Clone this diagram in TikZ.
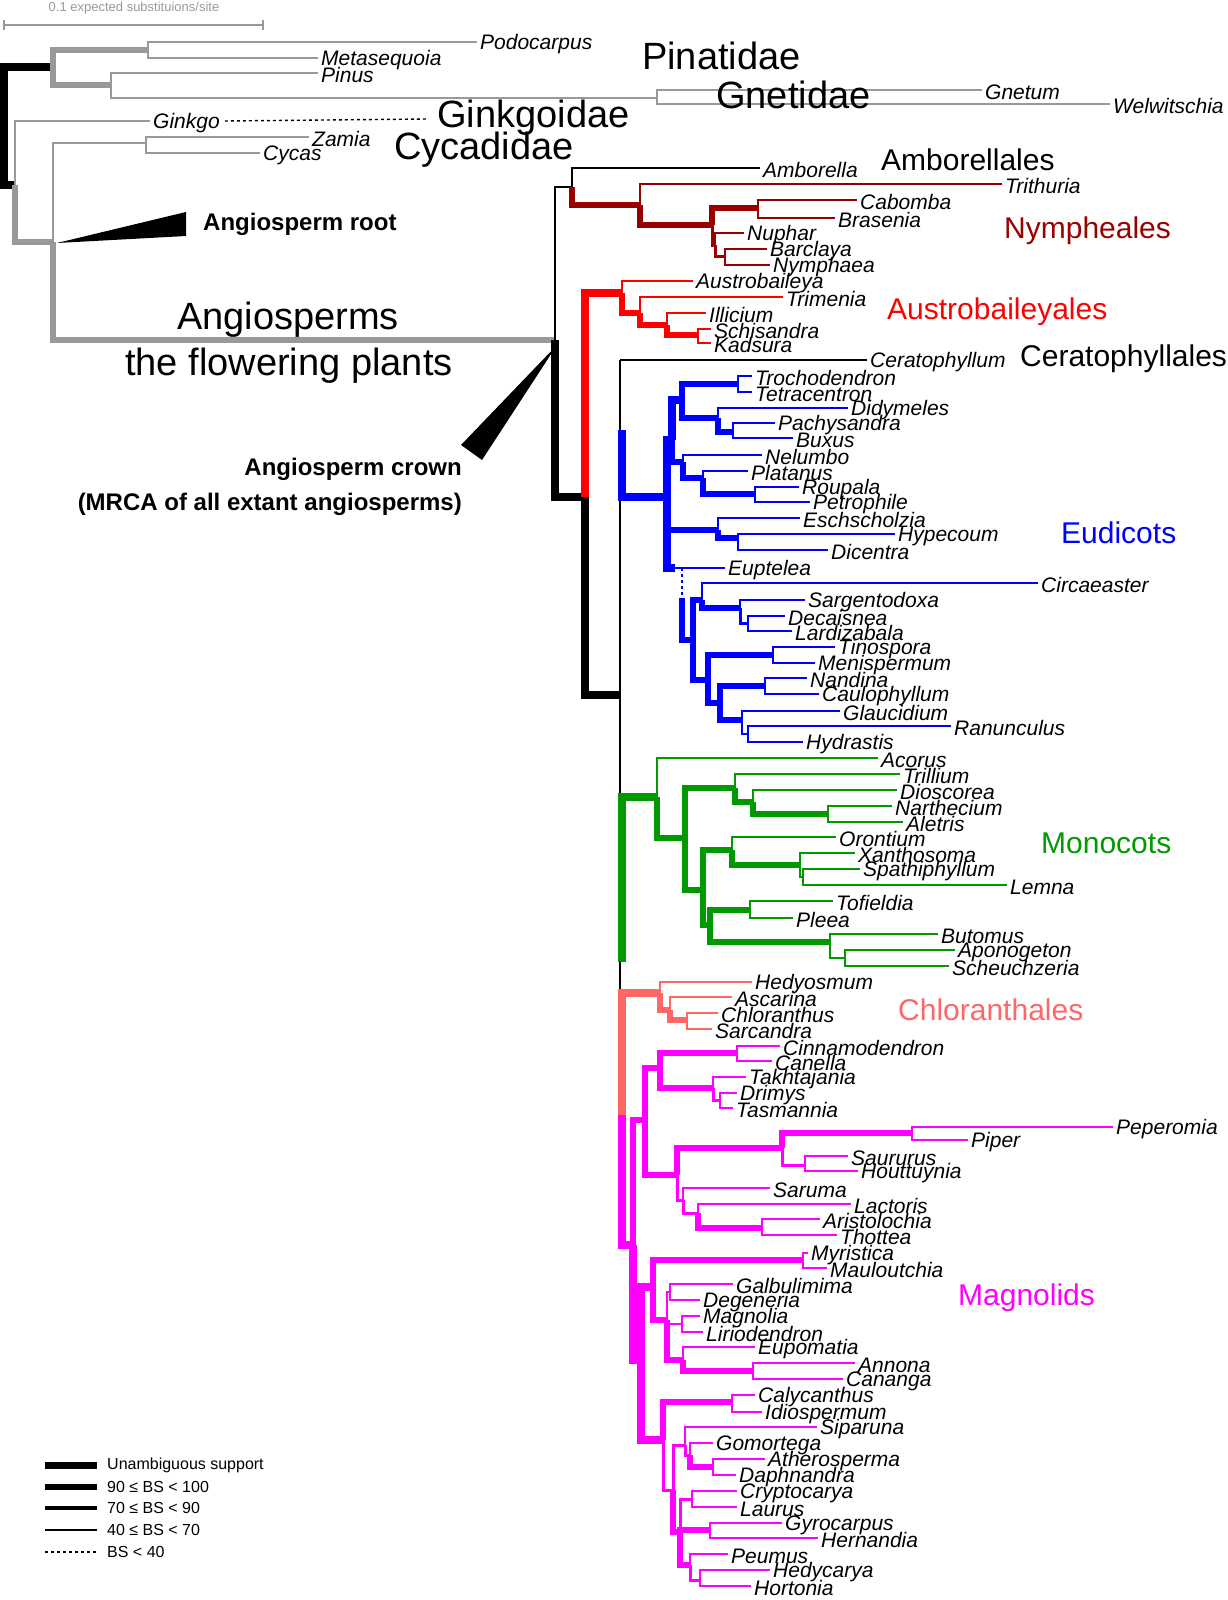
\documentclass[tikz,border=0pt]{standalone}
\usepackage{fontspec}
\setmainfont{Liberation Sans}
\usetikzlibrary{positioning}
\definecolor{gym}{HTML}{999999}
\definecolor{nym}{HTML}{990000}
\definecolor{aus}{HTML}{FF0000}
\definecolor{eud}{HTML}{0000FF}
\definecolor{mon}{HTML}{009900}
\definecolor{chl}{HTML}{FF6666}
\definecolor{mag}{HTML}{FF00FF}
\tikzset{
  t/.style={line width=1.4pt},
  m/.style={line width=3pt},
  k/.style={line width=5.5pt},
  kk/.style={line width=8pt},
  leaf/.style={anchor=west,inner sep=3pt,yshift=-2pt,text=black,font=\fontsize{21}{21}\selectfont\itshape},
  group/.style={anchor=west,inner sep=0pt,font=\fontsize{30}{30}\selectfont},
  big/.style={anchor=west,inner sep=0pt,font=\fontsize{38}{38}\selectfont},
  note/.style={inner sep=0pt,font=\fontsize{24}{24}\selectfont\bfseries},
  key/.style={anchor=west,inner sep=0pt,font=\fontsize{16}{16}\selectfont}
}
% tip of a taxon and its label
\newcommand\tx[3]{\coordinate (#3) at (#1,#2); \node[leaf] (n-#3) at (#3) {#3};}
% branch: vertical then horizontal
\newcommand\brn[3]{\draw[#1] (#2) |- (#3);}
\begin{document}
\begin{tikzpicture}[x=1pt,y=-1pt]
  \useasboundingbox (0,0) rectangle (1227,1600);

  % scale bar
  \draw[gym,t] (4,20) -- (4,30) (4,25) -- (263,25) (263,20) -- (263,30);
  \node[gym,inner sep=0pt,font=\fontsize{13}{13}\selectfont] (scale) at (134,8) {0.1 expected substituions/site};

  % gymnosperms
  \draw[kk] (4,130) |- (53,67);
  \draw[kk] (4,130) -- (4,185) -- (15,185);
  \begin{scope}[gym]
    \tx{477}{42}{Podocarpus} \tx{318}{58}{Metasequoia} \tx{318}{73}{Pinus}
    \tx{982}{90}{Gnetum} \tx{1110}{104}{Welwitschia}
    \tx{150}{121}{Ginkgo} \tx{309}{137}{Zamia} \tx{260}{153}{Cycas}
    \brn{k}{53,67}{148,50} \brn{k}{53,67}{111,85}
    \brn{t}{148,50}{Podocarpus} \brn{t}{148,50}{Metasequoia}
    \brn{t}{111,85}{Pinus} \brn{t}{111,85}{657,98}
    \brn{t}{657,98}{Gnetum} \brn{t}{657,98}{Welwitschia}
    \brn{t}{15,185}{Ginkgo} \brn{k}{15,185}{53,242}
    \brn{t}{53,242}{146,143} \brn{k}{53,242}{555,340}
    \brn{t}{146,143}{Zamia} \brn{t}{146,143}{Cycas}
  \end{scope}
  \draw[t,dashed] (n-Ginkgo.east) ++(2,-2) -- (427,119);
  \node[big] (pinat) at (642,56) {Pinatidae};
  \node[big] (gnet) at (716,95) {Gnetidae};
  \node[big] (gink) at (437,118) {Ginkgoidae};
  \node[big] (cycad) at (394,150) {Cycadidae};

  % angiosperm stem and labels
  \fill (57,243) -- (186,212) -- (186,236) -- cycle;
  \node[note,anchor=west] (root) at (203,224) {Angiosperm root};
  \node[big,anchor=center] (angio) at (288,320) {Angiosperms};
  \node[big,anchor=center] (flower) at (289,366) {the flowering plants};
  \fill (557,345) -- (461,445) -- (482,460) -- cycle;
  \node[note,anchor=east] (crown) at (462,469) {Angiosperm crown};
  \node[note,anchor=east] (mrca) at (462,504) {(MRCA of all extant angiosperms)};

  % angiosperm backbone
  \brn{t}{555,340}{572,187} \brn{kk}{555,340}{585,497}
  \tx{760}{168}{Amborella}
  \brn{t}{572,187}{Amborella}
  \brn{kk}{585,497}{620,695}
  \draw[t] (620,360) -- (620,990);
  \tx{867}{360}{Ceratophyllum}
  \draw[t] (620,360) -- (Ceratophyllum);
  \node[group] (amb) at (881,160) {Amborellales};
  \node[group] (cer) at (1020,359) {Ceratophyllales};

  % Nymphaeales
  \begin{scope}[nym]
    \tx{1002}{184}{Trithuria} \tx{857}{200}{Cabomba} \tx{835}{218}{Brasenia}
    \tx{744}{233}{Nuphar} \tx{767}{249}{Barclaya} \tx{770}{265}{Nymphaea}
    \brn{k}{572,187}{640,205}
    \brn{t}{640,205}{Trithuria} \brn{k}{640,205}{712,225}
    \brn{k}{712,225}{758,208} \brn{m}{712,225}{715,245}
    \brn{t}{758,208}{Cabomba} \brn{t}{758,208}{Brasenia}
    \brn{t}{715,245}{Nuphar} \brn{m}{715,245}{725,256}
    \brn{t}{725,256}{Barclaya} \brn{t}{725,256}{Nymphaea}
    \node[group] (nymg) at (1004,231) {Nympheales};
  \end{scope}

  % Austrobaileyales
  \begin{scope}[aus]
    \tx{693}{281}{Austrobaileya} \tx{783}{297}{Trimenia} \tx{706}{313}{Illicium}
    \tx{711}{329}{Schisandra} \tx{711}{343}{Kadsura}
    \brn{kk}{585,497}{622,293}
    \brn{t}{622,293}{Austrobaileya} \brn{k}{622,293}{640,313}
    \brn{t}{640,313}{Trimenia} \brn{k}{640,313}{667,325}
    \brn{t}{667,325}{Illicium} \brn{k}{667,325}{698,335}
    \brn{t}{698,335}{Schisandra} \brn{t}{698,335}{Kadsura}
    \node[group] (ausg) at (887,312) {Austrobaileyales};
  \end{scope}

  % Eudicots
  \begin{scope}[eud]
    \tx{752}{376}{Trochodendron} \tx{752}{392}{Tetracentron} \tx{848}{408}{Didymeles}
    \tx{775}{423}{Pachysandra} \tx{793}{438}{Buxus} \tx{762}{455}{Nelumbo}
    \tx{748}{471}{Platanus} \tx{799}{487}{Roupala} \tx{810}{502}{Petrophile}
    \tx{800}{518}{Eschscholzia} \tx{895}{534}{Hypecoum} \tx{828}{550}{Dicentra}
    \tx{725}{568}{Euptelea} \tx{1038}{583}{Circaeaster} \tx{805}{600}{Sargentodoxa}
    \tx{785}{616}{Decaisnea} \tx{792}{631}{Lardizabala} \tx{835}{647}{Tinospora}
    \tx{815}{663}{Menispermum} \tx{807}{678}{Nandina} \tx{819}{694}{Caulophyllum}
    \tx{840}{711}{Glaucidium} \tx{951}{726}{Ranunculus} \tx{803}{742}{Hydrastis}
    \draw[kk] (622,430) |- (667,497);
    \brn{kk}{667,497}{672,440} \brn{k}{667,497}{718,530} \brn{kk}{667,497}{675,568}
    \brn{t}{675,568}{Euptelea}
    \brn{kk}{672,440}{682,400} \brn{k}{672,440}{683,462}
    \brn{k}{682,400}{738,384} \brn{k}{682,400}{718,418}
    \brn{t}{738,384}{Trochodendron} \brn{t}{738,384}{Tetracentron}
    \brn{t}{718,418}{Didymeles} \brn{k}{718,418}{733,432}
    \brn{t}{733,432}{Pachysandra} \brn{t}{733,432}{Buxus}
    \brn{t}{683,462}{Nelumbo} \brn{k}{683,462}{703,478}
    \brn{t}{703,478}{Platanus} \brn{k}{703,478}{755,494}
    \brn{t}{755,494}{Roupala} \brn{t}{755,494}{Petrophile}
    \brn{t}{718,530}{Eschscholzia} \brn{k}{718,530}{738,538}
    \brn{t}{738,538}{Hypecoum} \brn{t}{738,538}{Dicentra}
    \draw[t,dashed] (682,568) -- (682,598);
    \draw[k] (682,598) |- (693,640);
    \brn{k}{693,640}{702,600} \brn{k}{693,640}{708,680}
    \brn{t}{702,600}{Circaeaster} \brn{k}{702,600}{740,608}
    \brn{t}{740,608}{Sargentodoxa} \brn{m}{740,608}{748,623}
    \brn{t}{748,623}{Decaisnea} \brn{t}{748,623}{Lardizabala}
    \brn{k}{708,680}{773,655} \brn{k}{708,680}{720,703}
    \brn{t}{773,655}{Tinospora} \brn{t}{773,655}{Menispermum}
    \brn{k}{720,703}{765,686} \brn{k}{720,703}{742,720}
    \brn{t}{765,686}{Nandina} \brn{t}{765,686}{Caulophyllum}
    \brn{t}{742,720}{Glaucidium} \brn{t}{742,720}{748,734}
    \brn{t}{748,734}{Ranunculus} \brn{t}{748,734}{Hydrastis}
    \node[group] (eudg) at (1061,533) {Eudicots};
  \end{scope}

  % Monocots
  \begin{scope}[mon]
    \tx{878}{758}{Acorus} \tx{900}{774}{Trillium} \tx{897}{790}{Dioscorea}
    \tx{892}{806}{Narthecium} \tx{903}{822}{Aletris} \tx{836}{837}{Orontium}
    \tx{855}{853}{Xanthosoma} \tx{860}{869}{Spathiphyllum} \tx{1007}{885}{Lemna}
    \tx{833}{901}{Tofieldia} \tx{793}{918}{Pleea} \tx{938}{934}{Butomus}
    \tx{955}{950}{Aponogeton} \tx{949}{966}{Scheuchzeria}
    \brn{kk}{622,962}{657,797}
    \brn{t}{657,797}{Acorus} \brn{k}{657,797}{685,838}
    \brn{k}{685,838}{735,788} \brn{k}{685,838}{703,890}
    \brn{t}{735,788}{Trillium} \brn{k}{735,788}{753,802}
    \brn{t}{753,802}{Dioscorea} \brn{k}{753,802}{828,814}
    \brn{t}{828,814}{Narthecium} \brn{t}{828,814}{Aletris}
    \brn{k}{703,890}{732,850} \brn{k}{703,890}{710,925}
    \brn{t}{732,850}{Orontium} \brn{k}{732,850}{800,865}
    \brn{t}{800,865}{Xanthosoma} \brn{t}{800,865}{803,877}
    \brn{t}{803,877}{Spathiphyllum} \brn{t}{803,877}{Lemna}
    \brn{k}{710,925}{750,910} \brn{k}{710,925}{830,942}
    \brn{t}{750,910}{Tofieldia} \brn{t}{750,910}{Pleea}
    \brn{t}{830,942}{Butomus} \brn{t}{830,942}{845,958}
    \brn{t}{845,958}{Aponogeton} \brn{t}{845,958}{Scheuchzeria}
    \node[group] (mong) at (1041,843) {Monocots};
  \end{scope}

  % Chloranthales
  \begin{scope}[chl]
    \tx{752}{982}{Hedyosmum} \tx{732}{997}{Ascarina} \tx{718}{1013}{Chloranthus}
    \tx{712}{1029}{Sarcandra}
    \brn{kk}{622,1115}{660,993}
    \brn{t}{660,993}{Hedyosmum} \brn{k}{660,993}{670,1010}
    \brn{t}{670,1010}{Ascarina} \brn{k}{670,1010}{687,1020}
    \brn{t}{687,1020}{Chloranthus} \brn{t}{687,1020}{Sarcandra}
    \node[group] (chlg) at (898,1010) {Chloranthales};
  \end{scope}

  % Magnoliids
  \begin{scope}[mag]
    \tx{780}{1046}{Cinnamodendron} \tx{772}{1061}{Canella} \tx{746}{1077}{Takhtajania}
    \tx{737}{1093}{Drimys} \tx{733}{1108}{Tasmannia} \tx{1113}{1127}{Peperomia}
    \tx{968}{1140}{Piper} \tx{848}{1156}{Saururus} \tx{858}{1171}{Houttuynia}
    \tx{770}{1188}{Saruma} \tx{851}{1204}{Lactoris} \tx{820}{1219}{Aristolochia}
    \tx{837}{1235}{Thottea} \tx{808}{1253}{Myristica} \tx{827}{1268}{Mauloutchia}
    \tx{733}{1284}{Galbulimima} \tx{700}{1300}{Degeneria} \tx{700}{1316}{Magnolia}
    \tx{703}{1332}{Liriodendron} \tx{755}{1347}{Eupomatia} \tx{855}{1363}{Annona}
    \tx{843}{1379}{Cananga} \tx{755}{1395}{Calycanthus} \tx{762}{1412}{Idiospermum}
    \tx{817}{1427}{Siparuna} \tx{713}{1443}{Gomortega} \tx{765}{1459}{Atherosperma}
    \tx{736}{1475}{Daphnandra} \tx{737}{1491}{Cryptocarya} \tx{737}{1507}{Laurus}
    \tx{782}{1523}{Gyrocarpus} \tx{818}{1538}{Hernandia} \tx{728}{1554}{Peumus}
    \tx{770}{1570}{Hedycarya} \tx{751}{1586}{Hortonia}
    \brn{kk}{622,1115}{633,1245}
    \brn{k}{633,1245}{645,1120} \brn{kk}{633,1245}{641,1360}
    \brn{k}{645,1120}{660,1068} \brn{k}{645,1120}{677,1175}
    \brn{k}{660,1068}{737,1053} \brn{k}{660,1068}{713,1088}
    \brn{t}{737,1053}{Cinnamodendron} \brn{t}{737,1053}{Canella}
    \brn{t}{713,1088}{Takhtajania} \brn{m}{713,1088}{720,1100}
    \brn{t}{720,1100}{Drimys} \brn{t}{720,1100}{Tasmannia}
    \brn{k}{677,1175}{782,1148} \brn{m}{677,1175}{683,1200}
    \brn{k}{782,1148}{912,1133} \brn{m}{782,1148}{805,1165}
    \brn{t}{912,1133}{Peperomia} \brn{t}{912,1133}{Piper}
    \brn{t}{805,1165}{Saururus} \brn{t}{805,1165}{Houttuynia}
    \brn{t}{683,1200}{Saruma} \brn{m}{683,1200}{698,1213}
    \brn{t}{698,1213}{Lactoris} \brn{k}{698,1213}{762,1228}
    \brn{t}{762,1228}{Aristolochia} \brn{t}{762,1228}{Thottea}
    \brn{kk}{641,1360}{653,1287} \brn{kk}{641,1360}{663,1440}
    \brn{k}{653,1287}{803,1260} \brn{k}{653,1287}{667,1320}
    \brn{t}{803,1260}{Myristica} \brn{t}{803,1260}{Mauloutchia}
    \brn{t}{667,1320}{670,1292} \brn{t}{667,1320}{682,1324} \brn{k}{667,1320}{683,1360}
    \brn{t}{670,1292}{Galbulimima} \brn{t}{670,1292}{Degeneria}
    \brn{t}{682,1324}{Magnolia} \brn{t}{682,1324}{Liriodendron}
    \brn{t}{683,1360}{Eupomatia} \brn{k}{683,1360}{753,1371}
    \brn{t}{753,1371}{Annona} \brn{t}{753,1371}{Cananga}
    \brn{k}{663,1440}{732,1402} \brn{m}{663,1440}{673,1490}
    \brn{t}{732,1402}{Calycanthus} \brn{t}{732,1402}{Idiospermum}
    \brn{m}{673,1490}{685,1445} \brn{k}{673,1490}{680,1532}
    \brn{t}{685,1445}{Siparuna} \brn{m}{685,1445}{690,1455}
    \brn{t}{690,1455}{Gomortega} \brn{k}{690,1455}{713,1467}
    \brn{t}{713,1467}{Atherosperma} \brn{t}{713,1467}{Daphnandra}
    \brn{m}{680,1532}{692,1499} \brn{k}{680,1532}{710,1530} \brn{k}{680,1532}{690,1565}
    \brn{t}{692,1499}{Cryptocarya} \brn{t}{692,1499}{Laurus}
    \brn{t}{710,1530}{Gyrocarpus} \brn{t}{710,1530}{Hernandia}
    \brn{t}{690,1565}{Peumus} \brn{m}{690,1565}{700,1580}
    \brn{t}{700,1580}{Hedycarya} \brn{t}{700,1580}{Hortonia}
    \node[group] (magg) at (958,1298) {Magnolids};
  \end{scope}

  % legend
  \draw[line width=7pt] (45,1465) -- (97,1465);
  \draw[line width=5.5pt] (45,1487) -- (97,1487);
  \draw[line width=4pt] (45,1508) -- (97,1508);
  \draw[t] (45,1530) -- (97,1530);
  \draw[t,dashed] (45,1552) -- (97,1552);
  \node[key] (k1) at (107,1465) {Unambiguous support};
  \node[key] (k2) at (107,1487) {90 ≤ BS < 100};
  \node[key] (k3) at (107,1508) {70 ≤ BS < 90};
  \node[key] (k4) at (107,1530) {40 ≤ BS < 70};
  \node[key] (k5) at (107,1552) {BS < 40};
\end{tikzpicture}
\end{document}
